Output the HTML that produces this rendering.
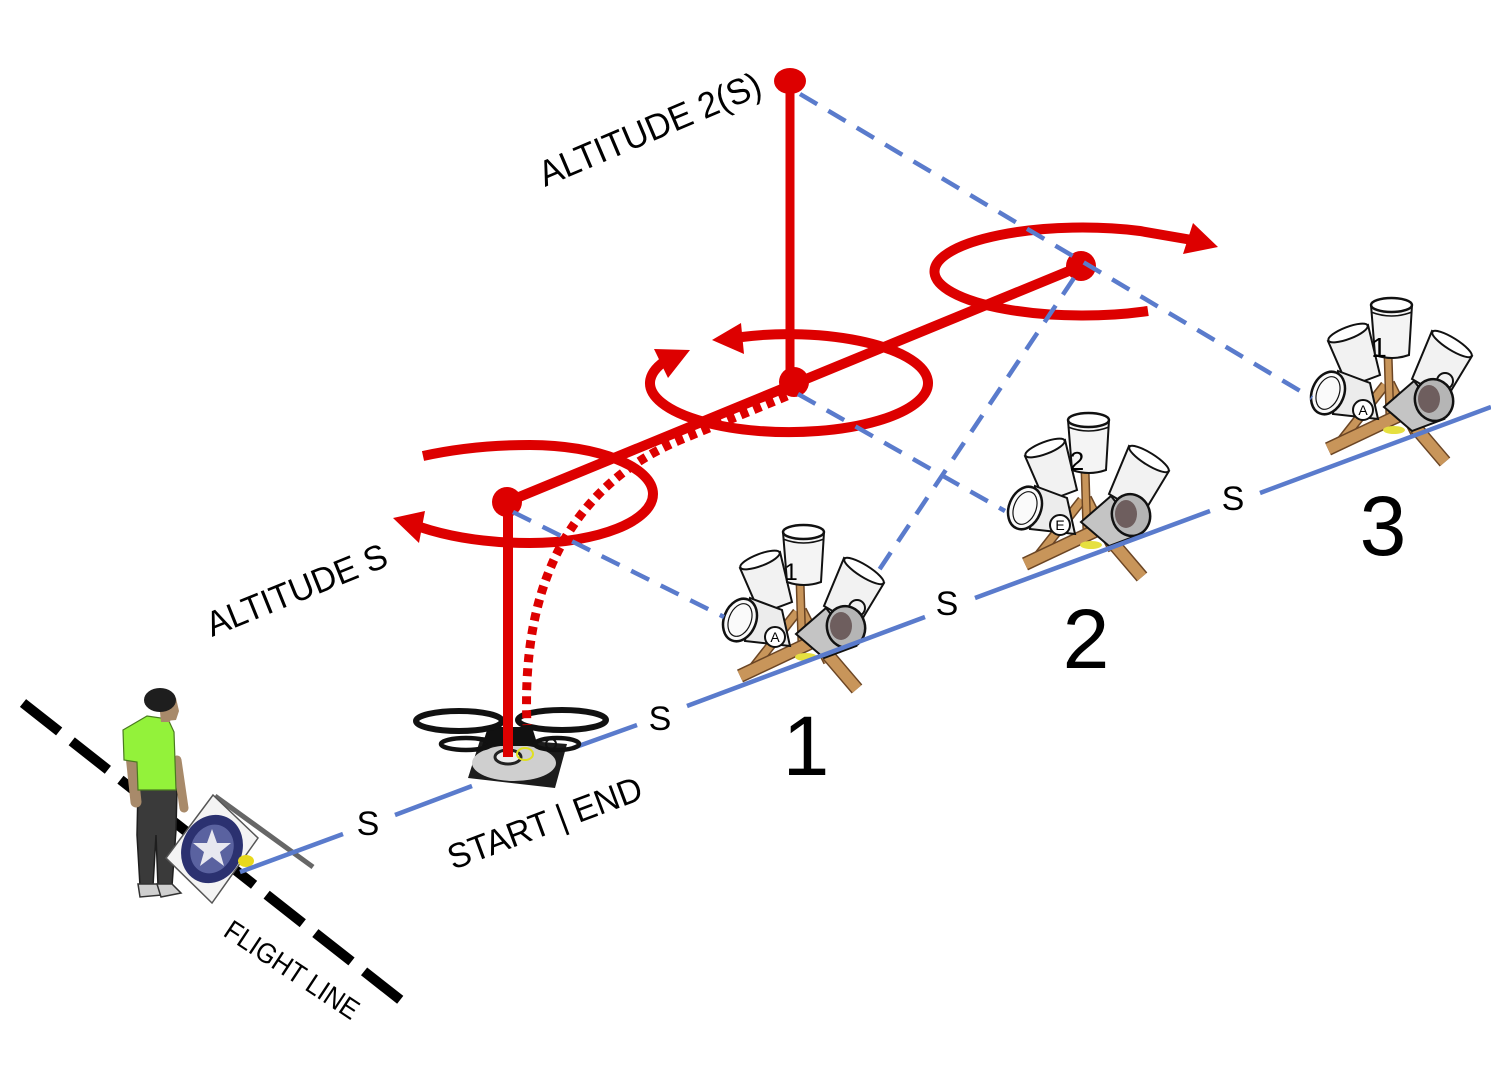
<!DOCTYPE html>
<html><head><meta charset="utf-8"><style>
html,body{margin:0;padding:0;background:#fff;}
svg{display:block;}
text{font-family:"Liberation Sans",sans-serif;fill:#000;}
</style></head><body>
<svg width="1491" height="1083" viewBox="0 0 1491 1083" xmlns="http://www.w3.org/2000/svg">
<rect width="1491" height="1083" fill="#fff"/>

<!-- flight line -->
<line x1="23" y1="703" x2="403" y2="1002" stroke="#000" stroke-width="10" stroke-dasharray="46 16"/>

<!-- man -->
<g>
  <path d="M138,788 L177,788 L176,830 L172,886 L158,886 L156,835 L153,886 L140,886 L137,835 Z" fill="#3a3a3a" stroke="#1e1e1e" stroke-width="1.5"/>
  <path d="M138,884 L157,884 L162,895 L140,897 Z" fill="#d0d0d0" stroke="#333" stroke-width="1.5"/>
  <path d="M157,884 L172,884 L181,893 L161,897 Z" fill="#d0d0d0" stroke="#333" stroke-width="1.5"/>
  <line x1="131" y1="755" x2="136" y2="802" stroke="#a88a6a" stroke-width="11" stroke-linecap="round"/>
  <line x1="177" y1="760" x2="184" y2="808" stroke="#a88a6a" stroke-width="9" stroke-linecap="round"/>
  <path d="M123,730 L147,716 L168,719 L174,732 L176,790 L138,790 L137,762 L124,760 Z" fill="#93f23a" stroke="#4a7a20" stroke-width="1.2"/>
  <path d="M160,712 L172,712 L170,722 L161,722 Z" fill="#a88a6a"/>
  <path d="M162,698 L176,698 L179,711 L176,720 L165,721 L160,711 Z" fill="#a88a6a"/>
  <ellipse cx="160" cy="700" rx="16" ry="12" fill="#1e1e1e"/>
</g>

<!-- sign -->
<g>
  <line x1="215" y1="796" x2="313" y2="867" stroke="#666" stroke-width="5"/>
  <polygon points="213,795 258,838 212,903 166,858" fill="#f4f4f4" stroke="#555" stroke-width="1.5"/>
  <ellipse cx="212" cy="849" rx="30" ry="35" transform="rotate(25 212 849)" fill="#2b3170"/>
  <ellipse cx="212" cy="849" rx="21" ry="25" transform="rotate(25 212 849)" fill="#5a62a0"/>
  <polygon points="212,829 217,843 231,843 220,852 224,866 212,857 200,866 204,852 193,843 207,843" fill="#e8e8f0"/>
  <ellipse cx="246" cy="861" rx="8" ry="6" fill="#e8d81c"/>
</g>

<!-- station 1 -->
<g transform="translate(800,600)">
  <line x1="-47" y1="68" x2="-3" y2="12" stroke="#6b4524" stroke-width="10"/>
  <line x1="-47" y1="68" x2="-3" y2="12" stroke="#c8955a" stroke-width="7"/>
  <line x1="28" y1="62" x2="2" y2="10" stroke="#6b4524" stroke-width="10"/>
  <line x1="28" y1="62" x2="2" y2="10" stroke="#c8955a" stroke-width="7"/>
  <line x1="0" y1="-20" x2="2" y2="45" stroke="#6b4524" stroke-width="9"/>
  <line x1="0" y1="-20" x2="2" y2="45" stroke="#c8955a" stroke-width="6"/>
  <line x1="-60" y1="76" x2="12" y2="42" stroke="#6b4524" stroke-width="14"/>
  <line x1="-60" y1="76" x2="12" y2="42" stroke="#c8955a" stroke-width="11"/>
  <line x1="28" y1="55" x2="57" y2="89" stroke="#6b4524" stroke-width="14"/>
  <line x1="28" y1="55" x2="57" y2="89" stroke="#c8955a" stroke-width="11"/>
  <ellipse cx="6" cy="57" rx="11" ry="4" fill="#e6e040"/>
  <polygon points="-60,-32 -20,-48 -8,2 -40,14" fill="#f2f2f2" stroke="#111" stroke-width="2"/>
  <ellipse cx="-40" cy="-40" rx="21" ry="6" transform="rotate(-21 -40 -40)" fill="#fff" stroke="#111" stroke-width="2"/>
  <polygon points="44,-42 84,-17 58,26 24,6" fill="#f2f2f2" stroke="#111" stroke-width="2"/>
  <ellipse cx="64" cy="-29" rx="23" ry="6" transform="rotate(32 64 -29)" fill="#fff" stroke="#111" stroke-width="2"/>
  <path d="M-17,-68 L-13,-18 Q4,-12 21,-18 L24,-68 Z" fill="#f4f4f4" stroke="#111" stroke-width="2"/>
  <ellipse cx="3.5" cy="-68" rx="20.5" ry="7" fill="#fff" stroke="#111" stroke-width="2.5"/>
  <path d="M-17,-61 Q3.5,-53 24,-61" fill="none" stroke="#111" stroke-width="1.5"/>
  <text x="-9" y="-20" font-size="24" text-anchor="middle">1</text>
  <polygon points="-50,-2 -18,10 -10,46 -55,41" fill="#ececec" stroke="#111" stroke-width="2"/>
  <ellipse cx="-60" cy="20" rx="16" ry="22" transform="rotate(22 -60 20)" fill="#fafafa" stroke="#111" stroke-width="2.5"/>
  <ellipse cx="-60" cy="20" rx="11" ry="17" transform="rotate(22 -60 20)" fill="none" stroke="#111" stroke-width="1.2"/>
  <circle cx="-25" cy="37" r="10" fill="#fff" stroke="#111" stroke-width="2"/>
  <text x="-25" y="42" font-size="14" text-anchor="middle">A</text>
  <circle cx="57" cy="8" r="8" fill="none" stroke="#111" stroke-width="2"/>
  <polygon points="26,8 56,46 24,58 -4,34" fill="#c4c4c4" stroke="#111" stroke-width="2"/>
  <ellipse cx="46" cy="27" rx="19" ry="21" transform="rotate(-15 46 27)" fill="#b5b5b5" stroke="#111" stroke-width="2.5"/>
  <ellipse cx="41" cy="26" rx="11" ry="14" fill="#6e5e5e"/>
</g>

<!-- station 2 -->
<g transform="translate(1085,488)">
  <line x1="-47" y1="68" x2="-3" y2="12" stroke="#6b4524" stroke-width="10"/>
  <line x1="-47" y1="68" x2="-3" y2="12" stroke="#c8955a" stroke-width="7"/>
  <line x1="28" y1="62" x2="2" y2="10" stroke="#6b4524" stroke-width="10"/>
  <line x1="28" y1="62" x2="2" y2="10" stroke="#c8955a" stroke-width="7"/>
  <line x1="0" y1="-20" x2="2" y2="45" stroke="#6b4524" stroke-width="9"/>
  <line x1="0" y1="-20" x2="2" y2="45" stroke="#c8955a" stroke-width="6"/>
  <line x1="-60" y1="76" x2="12" y2="42" stroke="#6b4524" stroke-width="14"/>
  <line x1="-60" y1="76" x2="12" y2="42" stroke="#c8955a" stroke-width="11"/>
  <line x1="28" y1="55" x2="57" y2="89" stroke="#6b4524" stroke-width="14"/>
  <line x1="28" y1="55" x2="57" y2="89" stroke="#c8955a" stroke-width="11"/>
  <ellipse cx="6" cy="57" rx="11" ry="4" fill="#e6e040"/>
  <polygon points="-60,-32 -20,-48 -8,2 -40,14" fill="#f2f2f2" stroke="#111" stroke-width="2"/>
  <ellipse cx="-40" cy="-40" rx="21" ry="6" transform="rotate(-21 -40 -40)" fill="#fff" stroke="#111" stroke-width="2"/>
  <polygon points="44,-42 84,-17 58,26 24,6" fill="#f2f2f2" stroke="#111" stroke-width="2"/>
  <ellipse cx="64" cy="-29" rx="23" ry="6" transform="rotate(32 64 -29)" fill="#fff" stroke="#111" stroke-width="2"/>
  <path d="M-17,-68 L-13,-18 Q4,-12 21,-18 L24,-68 Z" fill="#f4f4f4" stroke="#111" stroke-width="2"/>
  <ellipse cx="3.5" cy="-68" rx="20.5" ry="7" fill="#fff" stroke="#111" stroke-width="2.5"/>
  <path d="M-17,-61 Q3.5,-53 24,-61" fill="none" stroke="#111" stroke-width="1.5"/>
  <text x="-8" y="-18" font-size="26" text-anchor="middle">2</text>
  <polygon points="-50,-2 -18,10 -10,46 -55,41" fill="#ececec" stroke="#111" stroke-width="2"/>
  <ellipse cx="-60" cy="20" rx="16" ry="22" transform="rotate(22 -60 20)" fill="#fafafa" stroke="#111" stroke-width="2.5"/>
  <ellipse cx="-60" cy="20" rx="11" ry="17" transform="rotate(22 -60 20)" fill="none" stroke="#111" stroke-width="1.2"/>
  <circle cx="-25" cy="37" r="10" fill="#fff" stroke="#111" stroke-width="2"/>
  <text x="-25" y="42" font-size="14" text-anchor="middle">E</text>
  <polygon points="26,8 56,46 24,58 -4,34" fill="#c4c4c4" stroke="#111" stroke-width="2"/>
  <ellipse cx="46" cy="27" rx="19" ry="21" transform="rotate(-15 46 27)" fill="#b5b5b5" stroke="#111" stroke-width="2.5"/>
  <ellipse cx="41" cy="26" rx="11" ry="14" fill="#6e5e5e"/>
</g>

<!-- station 3 -->
<g transform="translate(1388,373)">
  <line x1="-47" y1="68" x2="-3" y2="12" stroke="#6b4524" stroke-width="10"/>
  <line x1="-47" y1="68" x2="-3" y2="12" stroke="#c8955a" stroke-width="7"/>
  <line x1="28" y1="62" x2="2" y2="10" stroke="#6b4524" stroke-width="10"/>
  <line x1="28" y1="62" x2="2" y2="10" stroke="#c8955a" stroke-width="7"/>
  <line x1="0" y1="-20" x2="2" y2="45" stroke="#6b4524" stroke-width="9"/>
  <line x1="0" y1="-20" x2="2" y2="45" stroke="#c8955a" stroke-width="6"/>
  <line x1="-60" y1="76" x2="12" y2="42" stroke="#6b4524" stroke-width="14"/>
  <line x1="-60" y1="76" x2="12" y2="42" stroke="#c8955a" stroke-width="11"/>
  <line x1="28" y1="55" x2="57" y2="89" stroke="#6b4524" stroke-width="14"/>
  <line x1="28" y1="55" x2="57" y2="89" stroke="#c8955a" stroke-width="11"/>
  <ellipse cx="6" cy="57" rx="11" ry="4" fill="#e6e040"/>
  <polygon points="-60,-32 -20,-48 -8,2 -40,14" fill="#f2f2f2" stroke="#111" stroke-width="2"/>
  <ellipse cx="-40" cy="-40" rx="21" ry="6" transform="rotate(-21 -40 -40)" fill="#fff" stroke="#111" stroke-width="2"/>
  <polygon points="44,-42 84,-17 58,26 24,6" fill="#f2f2f2" stroke="#111" stroke-width="2"/>
  <ellipse cx="64" cy="-29" rx="23" ry="6" transform="rotate(32 64 -29)" fill="#fff" stroke="#111" stroke-width="2"/>
  <path d="M-17,-68 L-13,-18 Q4,-12 21,-18 L24,-68 Z" fill="#f4f4f4" stroke="#111" stroke-width="2"/>
  <ellipse cx="3.5" cy="-68" rx="20.5" ry="7" fill="#fff" stroke="#111" stroke-width="2.5"/>
  <path d="M-17,-61 Q3.5,-53 24,-61" fill="none" stroke="#111" stroke-width="1.5"/>
  <text x="-9" y="-16" font-size="28" text-anchor="middle">1</text>
  <polygon points="-50,-2 -18,10 -10,46 -55,41" fill="#ececec" stroke="#111" stroke-width="2"/>
  <ellipse cx="-60" cy="20" rx="16" ry="22" transform="rotate(22 -60 20)" fill="#fafafa" stroke="#111" stroke-width="2.5"/>
  <ellipse cx="-60" cy="20" rx="11" ry="17" transform="rotate(22 -60 20)" fill="none" stroke="#111" stroke-width="1.2"/>
  <circle cx="-25" cy="37" r="10" fill="#fff" stroke="#111" stroke-width="2"/>
  <text x="-25" y="42" font-size="14" text-anchor="middle">A</text>
  <circle cx="57" cy="8" r="8" fill="none" stroke="#111" stroke-width="2"/>
  <polygon points="26,8 56,46 24,58 -4,34" fill="#c4c4c4" stroke="#111" stroke-width="2"/>
  <ellipse cx="46" cy="27" rx="19" ry="21" transform="rotate(-15 46 27)" fill="#b5b5b5" stroke="#111" stroke-width="2.5"/>
  <ellipse cx="41" cy="26" rx="11" ry="14" fill="#6e5e5e"/>
</g>

<!-- blue solid ground line -->
<g stroke="#5a7bcc" stroke-width="4.5" fill="none">
  <line x1="240" y1="872" x2="343" y2="834"/>
  <line x1="395" y1="815" x2="472" y2="786"/>
  <line x1="573" y1="748" x2="637" y2="725"/>
  <line x1="687" y1="706" x2="925" y2="617"/>
  <line x1="975" y1="598" x2="1210" y2="511"/>
  <line x1="1260" y1="493" x2="1491" y2="407"/>
</g>

<!-- drone -->
<g>
  <polygon points="468,778 481,737 567,744 555,788" fill="#1c1c1c"/>
  <ellipse cx="514" cy="763" rx="42" ry="18" fill="#cfcfcf"/>
  <ellipse cx="508" cy="757" rx="13" ry="7" fill="#eee" stroke="#222" stroke-width="3"/>
  <ellipse cx="525" cy="754" rx="8" ry="6" fill="none" stroke="#e0e020" stroke-width="2"/>
  <polygon points="488,727 532,727 538,746 482,746" fill="#111"/>
  <ellipse cx="459" cy="721" rx="43" ry="10" fill="none" stroke="#111" stroke-width="6"/>
  <ellipse cx="562" cy="720" rx="44" ry="10" fill="none" stroke="#111" stroke-width="6"/>
  <ellipse cx="466" cy="744" rx="25" ry="6" fill="none" stroke="#111" stroke-width="4.5"/>
  <ellipse cx="557" cy="744" rx="22" ry="6" fill="none" stroke="#111" stroke-width="4.5"/>
  <circle cx="551" cy="744" r="5" fill="none" stroke="#111" stroke-width="2"/>
</g>

<!-- red paths -->
<g stroke="#dd0000" fill="none" stroke-width="10">
  <path d="M423,456 C455,449 488,445 530,445 C598,445 653,467 653,494 C653,521 598,543 530,543 C485,543 450,537 420,527"/>
  <path d="M742,337 A139,49 0 1,1 668,359"/>
  <path d="M1148,311 A148,44 0 1,1 1140,231 L1192,240"/>
  <line x1="508" y1="502" x2="508" y2="757"/>
  <line x1="790" y1="81" x2="790" y2="382" stroke-width="9"/>
  <line x1="507" y1="502" x2="1081" y2="266"/>
  <path d="M787,396 L680,440 C590,478 520,560 527,725" stroke-width="9" stroke-dasharray="8 6"/>
</g>
<g fill="#dd0000">
  <polygon points="393,518 425,511 419,543"/>
  <polygon points="712,340 741,323 744,354"/>
  <polygon points="690,350 654,349 668,378"/>
  <polygon points="1218,247 1193,223 1183,254"/>
  <ellipse cx="790" cy="81" rx="16" ry="13"/>
  <circle cx="507" cy="502" r="15"/>
  <circle cx="794" cy="382" r="15"/>
  <circle cx="1081" cy="266" r="15"/>
</g>

<!-- blue dashed -->
<g stroke="#5a7bcc" stroke-width="4.5" fill="none" stroke-dasharray="20 13">
  <line x1="800" y1="94" x2="1312" y2="398"/>
  <line x1="513" y1="512" x2="724" y2="617"/>
  <line x1="798" y1="394" x2="1005" y2="511"/>
  <line x1="1074" y1="278" x2="875" y2="576"/>
</g>

<!-- labels -->
<text transform="translate(545,187) rotate(-23)" font-size="36" textLength="238" lengthAdjust="spacingAndGlyphs">ALTITUDE 2(S)</text>
<text transform="translate(212,637) rotate(-22)" font-size="35" textLength="192" lengthAdjust="spacingAndGlyphs">ALTITUDE S</text>
<text transform="translate(453,870) rotate(-20.5)" font-size="35" textLength="205" lengthAdjust="spacingAndGlyphs">START | END</text>
<text transform="translate(222,935) rotate(33.5)" font-size="28" textLength="155" lengthAdjust="spacingAndGlyphs">FLIGHT LINE</text>

<text x="368" y="835" font-size="34" text-anchor="middle">S</text>
<text x="660" y="730" font-size="34" text-anchor="middle">S</text>
<text x="947" y="615" font-size="34" text-anchor="middle">S</text>
<text x="1233" y="510" font-size="34" text-anchor="middle">S</text>

<text x="806" y="775" font-size="84" text-anchor="middle">1</text>
<text x="1086" y="668" font-size="84" text-anchor="middle">2</text>
<text x="1383" y="555" font-size="84" text-anchor="middle">3</text>
</svg>
</body></html>
